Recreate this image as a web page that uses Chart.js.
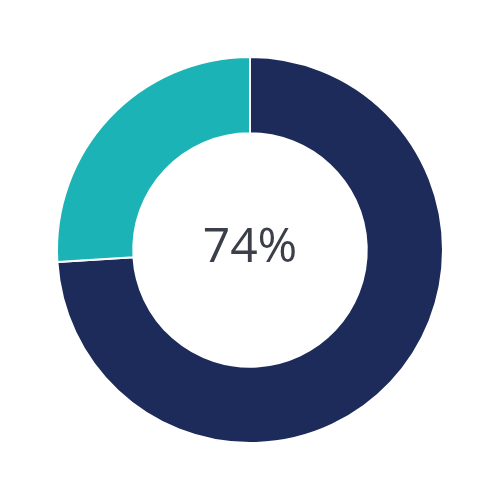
<!DOCTYPE html>
<html>
<head>
<meta charset="utf-8">
<script src="https://cdn.jsdelivr.net/npm/chart.js@4/dist/chart.umd.min.js"></script>
<style>
html,body{margin:0;padding:0;background:#fff;}
#wrap{width:500px;height:500px;}
</style>
</head>
<body>
<div id="wrap"><canvas id="c" width="500" height="500"></canvas></div>
<script>
const labels = ['Yes', 'No'];
const values = [74, 26];
const colors = ['#1c2b5a', '#1bb3b5'];
const centerLabel = '74%';

const centerText = {
  id: 'centerText',
  afterDraw(chart) {
    const {ctx} = chart;
    const meta = chart.getDatasetMeta(0).data[0];
    ctx.save();
    ctx.font = '400 48px "Open Sans", sans-serif';
    ctx.fillStyle = '#3a3f4a';
    ctx.textAlign = 'center';
    ctx.textBaseline = 'middle';
    ctx.fillText(centerLabel, meta.x, meta.y - 2);
    ctx.restore();
  }
};

new Chart(document.getElementById('c'), {
  type: 'doughnut',
  data: {
    labels: labels,
    datasets: [{
      data: values,
      backgroundColor: colors,
      borderColor: '#ffffff',
      borderWidth: 2
    }]
  },
  options: {
    responsive: false,
    animation: false,
    cutout: '60.5%',
    layout: { padding: 56 },
    plugins: {
      legend: { display: false },
      tooltip: { enabled: false }
    }
  },
  plugins: [centerText]
});
</script>
</body>
</html>
